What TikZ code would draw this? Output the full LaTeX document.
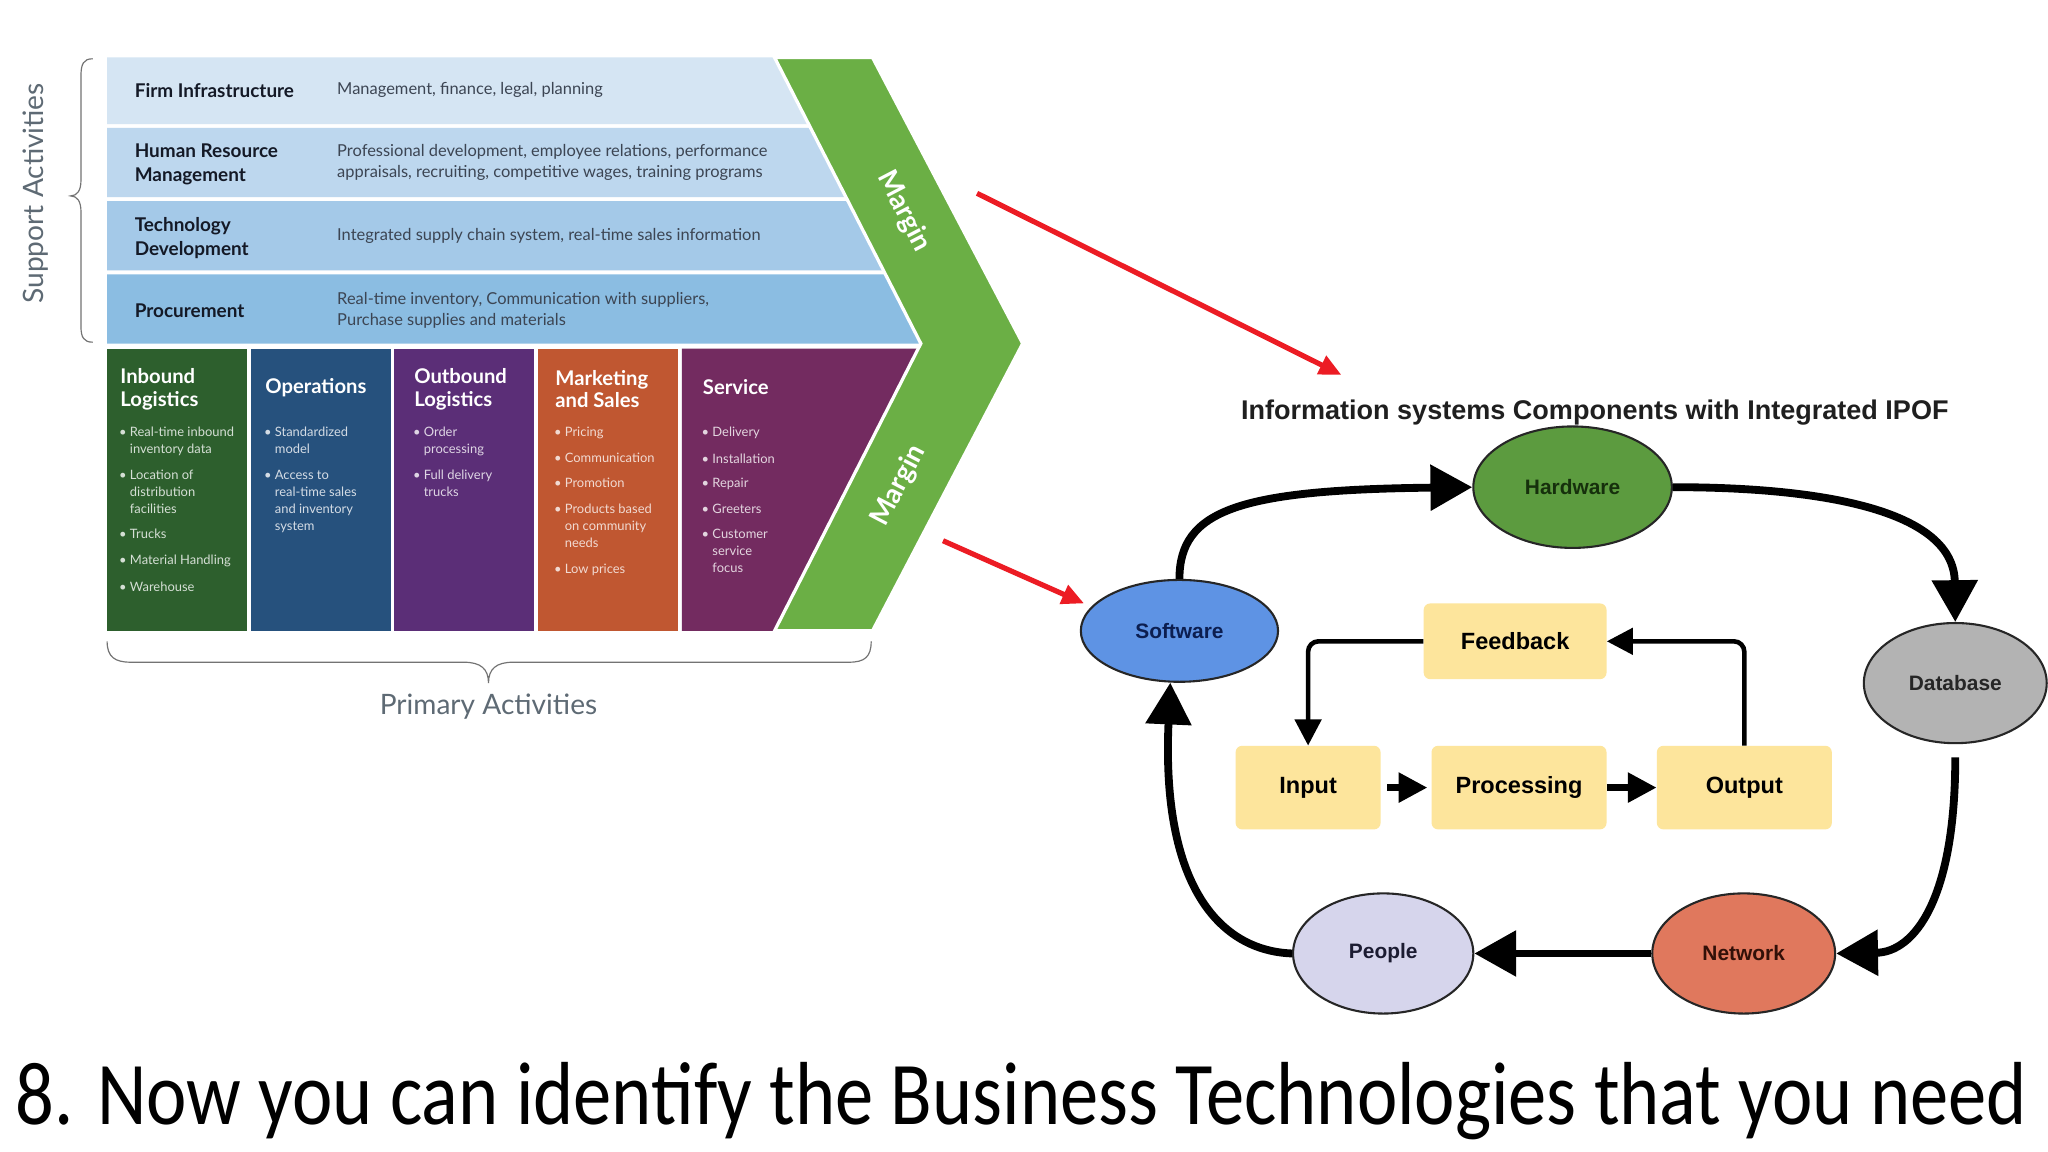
\documentclass[tikz,border=0pt]{standalone}
\usepackage{fontspec}
\usepackage{graphicx}
\newfontfamily\vcfont{Lato}
\newfontfamily\arfont{Liberation Sans}
\newfontfamily\calfont{Carlito}
\usetikzlibrary{arrows.meta,shapes.geometric}
\definecolor{rowA}{HTML}{D5E5F3}
\definecolor{rowB}{HTML}{BDD7EE}
\definecolor{rowC}{HTML}{A4C9E8}
\definecolor{rowD}{HTML}{8BBDE2}
\definecolor{marg}{HTML}{6BAF45}
\definecolor{cIn}{HTML}{2D5F2D}
\definecolor{cOp}{HTML}{26517D}
\definecolor{cOut}{HTML}{5B2E77}
\definecolor{cMk}{HTML}{C05731}
\definecolor{cSv}{HTML}{732B60}
\definecolor{ttl}{HTML}{141926}
\definecolor{dsc}{HTML}{3C4553}
\definecolor{graytxt}{HTML}{5E6A74}
\definecolor{hw}{HTML}{5C9B3F}
\definecolor{sw}{HTML}{5E93E4}
\definecolor{db}{HTML}{B3B3B3}
\definecolor{pp}{HTML}{D6D5EC}
\definecolor{nw}{HTML}{E0785D}
\definecolor{ipoy}{HTML}{FDE59C}
\definecolor{redar}{HTML}{EC1C24}
\begin{document}
\begin{tikzpicture}[x=1pt,y=-1pt,
  rowtitle/.style={anchor=west, inner sep=0, align=left, text=ttl, font=\vcfont\bfseries\fontsize{14.5}{18.5}\selectfont},
  rowdesc/.style={anchor=west, inner sep=0, align=left, text=dsc, font=\vcfont\fontsize{12.6}{16}\selectfont},
  coltitle/.style={anchor=west, inner sep=0, align=left, text=white, font=\vcfont\bfseries\fontsize{15.5}{17}\selectfont},
  bullets/.style={anchor=north west, inner sep=0, align=left, font=\vcfont\fontsize{9.9}{13}\selectfont},
  marginlbl/.style={text=white, font=\vcfont\bfseries\fontsize{21}{24}\selectfont},
  graylabel/.style={text=graytxt, font=\vcfont\fontsize{21.5}{25}\selectfont},
  comp/.style={ellipse, draw=black!85, line width=1.6pt, inner sep=0, font=\arfont\bfseries\fontsize{16}{18}\selectfont},
  ipo/.style={rectangle, rounded corners=5pt, fill=ipoy, inner sep=0, font=\arfont\bfseries\fontsize{18}{20}\selectfont},
  bigarrow/.style={line width=6pt, -{Triangle[length=32pt,width=34pt]}},
  ipoarrow/.style={line width=3.5pt, -{Triangle[length=20pt,width=20pt]}},
  shortarrow/.style={line width=5pt, -{Triangle[length=22pt,width=22pt]}},
  redarrow/.style={draw=redar, line width=4pt, -{Triangle[length=17pt,width=15pt]}},
  bracecol/.style={draw=black!55, line width=0.9pt}
]
\fill[white] (0,0) rectangle (1568,882);
\useasboundingbox (0,0) rectangle (1568,882);

% ---------- support rows ----------
\fill[rowA] (82,44) -- (593,44) -- (619,95) -- (82,95) -- cycle;
\fill[rowB] (82,98) -- (621,98) -- (648,151) -- (82,151) -- cycle;
\fill[rowC] (82,154) -- (649,154) -- (676,207) -- (82,207) -- cycle;
\fill[rowD] (82,210) -- (678,210) -- (705,263) -- (82,263) -- cycle;

% ---------- primary columns ----------
\fill[cIn] (82,267) rectangle (189,483);
\fill[cOp] (192,267) rectangle (299,483);
\fill[cOut] (302,267) rectangle (409,483);
\fill[cMk] (412,267) rectangle (519,483);
\fill[cSv] (522,267) -- (703,267) -- (593,483) -- (522,483) -- cycle;

% ---------- margin chevron ----------
\filldraw[fill=marg, draw=white, line width=2.5pt, line join=miter]
  (593,44) -- (668,44) -- (783,263) -- (668,483) -- (593,483) -- (705,263) -- cycle;
\node[marginlbl, rotate=-62.5] (m1) at (692,162) {Margin};
\node[marginlbl, rotate=62.5] (m2) at (688,372) {Margin};

% ---------- support texts ----------
\node[rowtitle] (t1) at (103,69) {Firm Infrastructure};
\node[rowdesc] (d1) at (258,69) {Management, finance, legal, planning};
\node[rowtitle] (t2) at (103,126) {Human Resource\\Management};
\node[rowdesc] (d2) at (258,124.5) {Professional development, employee relations, performance\\appraisals, recruiting, competitive wages, training programs};
\node[rowtitle] (t3) at (103,182.5) {Technology\\Development};
\node[rowdesc] (d3) at (258,181) {Integrated supply chain system, real-time sales information};
\node[rowtitle] (t4) at (103,238) {Procurement};
\node[rowdesc] (d4) at (258,237.5) {Real-time inventory, Communication with suppliers,\\Purchase supplies and materials};

% ---------- primary texts ----------
\node[coltitle] (c1) at (92,298) {Inbound\\Logistics};
\node[coltitle] (c2) at (203,296.5) {Operations};
\node[coltitle] (c3) at (317,298) {Outbound\\Logistics};
\node[coltitle] (c4) at (425,298) {Marketing\\and Sales};
\node[coltitle] (c5) at (538,296.5) {Service};

\node[bullets, text=white!80!cIn] (b1) at (91,327) {•~Real-time inbound\\\hphantom{•~}inventory data\\[7pt]•~Location of\\\hphantom{•~}distribution\\\hphantom{•~}facilities\\[6pt]•~Trucks\\[7pt]•~Material Handling\\[7pt]•~Warehouse};
\node[bullets, text=white!80!cOp] (b2) at (202,327) {•~Standardized\\\hphantom{•~}model\\[7pt]•~Access to\\\hphantom{•~}real-time sales\\\hphantom{•~}and inventory\\\hphantom{•~}system};
\node[bullets, text=white!80!cOut] (b3) at (316,327) {•~Order\\\hphantom{•~}processing\\[7pt]•~Full delivery\\\hphantom{•~}trucks};
\node[bullets, text=white!78!cMk] (b4) at (424,327) {•~Pricing\\[7pt]•~Communication\\[6pt]•~Promotion\\[7pt]•~Products based\\\hphantom{•~}on community\\\hphantom{•~}needs\\[7pt]•~Low prices};
\node[bullets, text=white!80!cSv] (b5) at (537,327) {•~Delivery\\[7pt]•~Installation\\[6pt]•~Repair\\[7pt]•~Greeters\\[6pt]•~Customer\\\hphantom{•~}service\\\hphantom{•~}focus};

% ---------- braces and labels ----------
\draw[bracecol] (71,45) .. controls (64,45) and (62,49) .. (62,58) -- (62,138)
  .. controls (62,146) and (59,150) .. (54,150)
  .. controls (59,150) and (62,154) .. (62,162) -- (62,250)
  .. controls (62,258) and (64,262) .. (71,262);
\node[graylabel, rotate=90] (sa) at (27,148) {Support Activities};
\draw[bracecol] (82,491) .. controls (82,503) and (88,507) .. (100,507) -- (355,507)
  .. controls (368,507) and (374,512) .. (374,523)
  .. controls (374,512) and (380,507) .. (393,507) -- (650,507)
  .. controls (662,507) and (667,503) .. (667,491);
\node[graylabel] (pa) at (374,541) {Primary Activities};

% ---------- red arrows ----------
\coordinate (r1s) at (748,148);
\coordinate (r1e) at (1027,287);
\coordinate (r2s) at (722,414);
\coordinate (r2e) at (830,462);
\draw[redarrow] (r1s) -- (r1e);
\draw[redarrow] (r2s) -- (r2e);

% ---------- IS components diagram ----------
\node[font=\arfont\bfseries\fontsize{20.7}{24}\selectfont, text=black!88] (title) at (1221,316) {Information systems Components with Integrated IPOF};

\node[comp, fill=hw, text={rgb,255:red,22;green,48;blue,12}, minimum width=152, minimum height=93] (hwn) at (1204,373) {Hardware};
\node[comp, fill=sw, text={rgb,255:red,12;green,30;blue,80}, minimum width=151, minimum height=78] (swn) at (903,483) {Software};
\node[comp, fill=db, text=black!85, minimum width=140, minimum height=92] (dbn) at (1497,523) {Database};
\node[comp, fill=pp, text={rgb,255:red,28;green,28;blue,50}, minimum width=138, minimum height=92] (ppn) at (1059,730) {People};
\node[comp, fill=nw, text={rgb,255:red,50;green,16;blue,8}, minimum width=140, minimum height=92] (nwn) at (1335,730) {Network};

\node[ipo, minimum width=140, minimum height=58] (fb) at (1160,491) {Feedback};
\node[ipo, minimum width=111, minimum height=64] (inp) at (1001.5,603) {Input};
\node[ipo, minimum width=134, minimum height=64] (prc) at (1163,603) {Processing};
\node[ipo, minimum width=134, minimum height=64] (outp) at (1335.5,603) {Output};

\draw[bigarrow] (swn.north) .. controls (903,390) and (950,375) .. (hwn.west);
\draw[bigarrow] (hwn.east) .. controls (1400,373) and (1496,392) .. (dbn.north);
\draw[bigarrow, shorten <=10pt] (dbn.south) .. controls (1497,690) and (1465,729) .. (nwn.east);
\draw[bigarrow] (nwn.west) -- (ppn.east);
\draw[bigarrow] (ppn.west) .. controls (935,728) and (889,680) .. (swn.260);

\draw[ipoarrow, rounded corners=8pt] (outp.north) |- (fb.east);
\draw[ipoarrow, rounded corners=8pt] (fb.west) -| (inp.north);
\draw[shortarrow, shorten <=5pt, shorten >=3pt] (inp.east) -- (prc.west);
\draw[shortarrow] (prc.east) -- (outp.west);

% ---------- bottom text ----------
\node[anchor=base west, inner sep=0, font=\calfont\fontsize{58.6}{60}\selectfont] (bt) at (12,861) {\scalebox{1}[1.17]{8. Now you can identify the Business Technologies that you need}};
\end{tikzpicture}
\end{document}
